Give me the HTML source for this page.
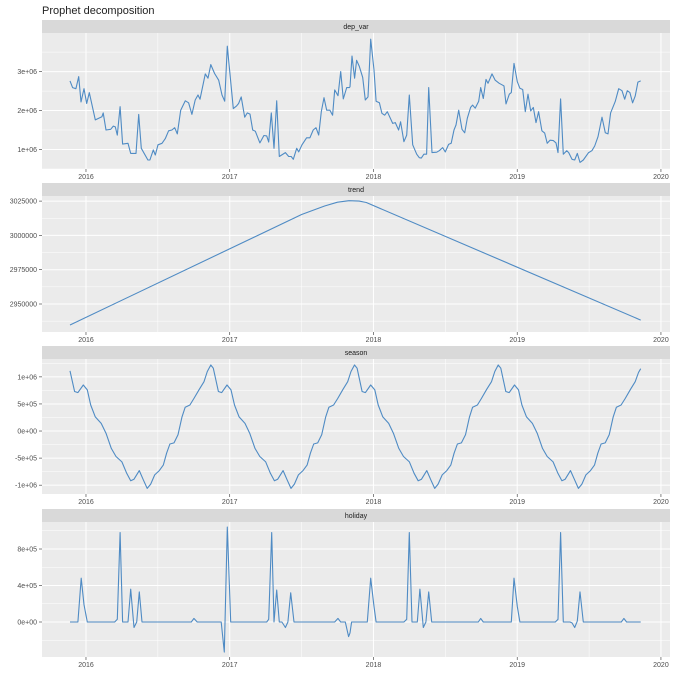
<!DOCTYPE html>
<html><head><meta charset="utf-8">
<style>
html,body{margin:0;padding:0;background:#fff;}
svg{display:block;font-family:"Liberation Sans",sans-serif;}
</style></head>
<body>
<svg id="chart" width="697" height="674" viewBox="0 0 697 674" xmlns="http://www.w3.org/2000/svg">
<text x="42" y="14" font-size="11" fill="#222">Prophet decomposition</text>
</svg>
<script>
// ---- data ----
const depDates=[2015.889,2015.907,2015.930,2015.949,2015.965,2015.986,2016.005,2016.023,2016.065,2016.111,2016.120,2016.139,2016.172,2016.190,2016.204,2016.218,2016.237,2016.255,2016.292,2016.311,2016.348,2016.367,2016.385,2016.431,2016.445,2016.468,2016.482,2016.501,2016.529,2016.552,2016.575,2016.598,2016.617,2016.635,2016.659,2016.691,2016.714,2016.737,2016.760,2016.779,2016.793,2016.830,2016.849,2016.868,2016.895,2016.923,2016.946,2016.965,2016.983,2017.025,2017.048,2017.062,2017.080,2017.104,2017.122,2017.141,2017.160,2017.178,2017.210,2017.238,2017.257,2017.271,2017.289,2017.308,2017.327,2017.345,2017.387,2017.410,2017.428,2017.442,2017.466,2017.480,2017.503,2017.535,2017.558,2017.581,2017.600,2017.619,2017.637,2017.656,2017.675,2017.697,2017.716,2017.730,2017.753,2017.772,2017.790,2017.814,2017.832,2017.837,2017.851,2017.869,2017.883,2017.901,2017.925,2017.943,2017.962,2017.981,2018.004,2018.018,2018.041,2018.059,2018.078,2018.096,2018.134,2018.152,2018.175,2018.189,2018.212,2018.231,2018.249,2018.273,2018.301,2018.319,2018.333,2018.351,2018.370,2018.384,2018.407,2018.440,2018.458,2018.481,2018.500,2018.523,2018.541,2018.560,2018.574,2018.593,2018.616,2018.635,2018.653,2018.676,2018.690,2018.708,2018.732,2018.746,2018.764,2018.783,2018.797,2018.825,2018.847,2018.875,2018.899,2018.908,2018.922,2018.945,2018.959,2018.978,2019.001,2019.019,2019.038,2019.056,2019.075,2019.094,2019.112,2019.131,2019.149,2019.172,2019.191,2019.209,2019.228,2019.251,2019.270,2019.284,2019.302,2019.321,2019.344,2019.358,2019.381,2019.400,2019.418,2019.437,2019.460,2019.497,2019.520,2019.539,2019.562,2019.590,2019.613,2019.632,2019.650,2019.682,2019.706,2019.729,2019.748,2019.766,2019.784,2019.803,2019.821,2019.840,2019.859];
const depValues=[2.76,2.59,2.56,2.87,2.22,2.56,2.18,2.46,1.76,1.84,1.94,1.5,1.52,1.6,1.58,1.37,2.1,1.14,1.16,0.9,0.9,1.9,1.03,0.73,0.73,0.99,0.86,1.12,1.16,1.28,1.48,1.5,1.56,1.4,2.01,2.25,2.2,1.9,2.27,2.4,2.29,2.94,2.83,3.18,2.95,2.78,2.4,2.24,3.65,2.05,2.12,2.18,2.35,1.83,1.94,1.91,1.5,1.47,1.17,1.36,1.35,1.19,1.94,1.03,2.25,0.82,0.92,0.82,0.82,0.75,1.03,0.94,1.12,1.3,1.3,1.5,1.56,1.37,1.97,2.33,2.01,2.01,1.88,2.53,2.38,3.0,2.3,2.59,2.59,2.61,3.4,2.83,3.29,3.14,2.85,2.27,2.35,3.83,3.04,2.24,2.2,1.93,1.88,1.97,1.67,1.69,1.5,1.71,1.2,1.37,2.4,1.12,0.88,0.79,0.78,0.88,0.88,2.59,0.92,0.93,0.97,1.05,0.94,1.13,1.16,1.5,1.63,2.01,1.52,1.43,1.8,2.08,2.14,2.06,2.24,2.59,2.31,2.8,2.7,2.94,2.78,2.7,2.65,2.63,2.17,2.42,2.46,3.21,2.74,2.57,2.54,1.97,2.42,1.99,2.08,1.69,1.97,1.48,1.42,1.16,1.24,1.23,1.17,0.92,2.3,0.88,0.97,0.92,0.75,0.73,0.9,0.67,0.73,0.92,0.97,1.09,1.33,1.83,1.43,1.4,1.94,2.23,2.56,2.51,2.29,2.51,2.46,2.2,2.37,2.73,2.76]; // millions

const trendDates=[2015.889,2017.5,2017.66,2017.75,2017.83,2017.9,2017.95,2019.859];
const trendValues=[2934700,3015200,3021400,3024200,3025300,3025000,3024000,2938300];

const seasonDates=[2015.889,2015.921,2015.944,2015.981,2016.009,2016.033,2016.065,2016.106,2016.139,2016.176,2016.209,2016.250,2016.283,2016.311,2016.334,2016.371,2016.399,2016.426,2016.450,2016.478,2016.510,2016.538,2016.561,2016.584,2016.612,2016.640,2016.668,2016.690,2016.723,2016.751,2016.788,2016.821,2016.844,2016.868,2016.886,
2016.921,2016.944,2016.981,2017.009,2017.033,2017.065,2017.106,2017.139,2017.176,2017.209,2017.250,2017.283,2017.311,2017.334,2017.371,2017.399,2017.426,2017.450,2017.478,2017.510,2017.538,2017.561,2017.584,2017.612,2017.640,2017.668,2017.690,2017.723,2017.751,2017.788,2017.821,2017.844,2017.868,2017.886,
2017.921,2017.944,2017.981,2018.009,2018.033,2018.065,2018.106,2018.139,2018.176,2018.209,2018.250,2018.283,2018.311,2018.334,2018.371,2018.399,2018.426,2018.450,2018.478,2018.510,2018.538,2018.561,2018.584,2018.612,2018.640,2018.668,2018.690,2018.723,2018.751,2018.788,2018.821,2018.844,2018.868,2018.886,
2018.921,2018.944,2018.981,2019.009,2019.033,2019.065,2019.106,2019.139,2019.176,2019.209,2019.250,2019.283,2019.311,2019.334,2019.371,2019.399,2019.426,2019.450,2019.478,2019.510,2019.538,2019.561,2019.584,2019.612,2019.640,2019.668,2019.690,2019.723,2019.751,2019.788,2019.821,2019.844,2019.859];
const seasonValues=[1.11,0.73,0.71,0.85,0.76,0.48,0.26,0.14,-0.04,-0.32,-0.47,-0.57,-0.78,-0.92,-0.89,-0.73,-0.90,-1.06,-0.98,-0.81,-0.73,-0.63,-0.41,-0.24,-0.22,-0.07,0.26,0.44,0.48,0.60,0.77,0.91,1.10,1.22,1.16,
0.73,0.71,0.85,0.76,0.48,0.26,0.14,-0.04,-0.32,-0.47,-0.57,-0.78,-0.92,-0.89,-0.73,-0.90,-1.06,-0.98,-0.81,-0.73,-0.63,-0.41,-0.24,-0.22,-0.07,0.26,0.44,0.48,0.60,0.77,0.91,1.10,1.22,1.16,
0.73,0.71,0.85,0.76,0.48,0.26,0.14,-0.04,-0.32,-0.47,-0.57,-0.78,-0.92,-0.89,-0.73,-0.90,-1.06,-0.98,-0.81,-0.73,-0.63,-0.41,-0.24,-0.22,-0.07,0.26,0.44,0.48,0.60,0.77,0.91,1.10,1.22,1.16,
0.73,0.71,0.85,0.76,0.48,0.26,0.14,-0.04,-0.32,-0.47,-0.57,-0.78,-0.92,-0.89,-0.73,-0.90,-1.06,-0.98,-0.81,-0.73,-0.63,-0.41,-0.24,-0.22,-0.07,0.26,0.44,0.48,0.60,0.77,0.91,1.08,1.15]; // millions

const holidayDates=[2015.889,2015.944,2015.967,2015.986,2016.009,2016.200,2016.218,2016.237,2016.255,2016.292,2016.311,2016.334,2016.353,2016.371,2016.390,2016.733,2016.751,2016.774,2016.941,2016.962,2016.983,2017.007,2017.257,2017.271,2017.292,2017.308,2017.327,2017.345,2017.363,2017.387,2017.405,2017.424,2017.447,2017.730,2017.753,2017.772,2017.804,2017.827,2017.837,2017.848,2017.957,2017.981,2018.004,2018.018,2018.212,2018.231,2018.249,2018.268,2018.305,2018.323,2018.347,2018.365,2018.384,2018.405,2018.729,2018.746,2018.764,2018.959,2018.978,2019.001,2019.019,2019.265,2019.284,2019.302,2019.321,2019.367,2019.381,2019.400,2019.418,2019.437,2019.460,2019.724,2019.742,2019.761,2019.859];
const holidayValues=[0,0,4.8,1.9,0,0,0.3,9.8,0,0,3.6,-0.6,0,3.3,0,0,0.4,0,0,-3.3,10.4,0,0,0.3,9.8,0,3.5,0,0,-0.6,0,3.2,0,0,0.4,0,0,-1.6,-1.2,0,0,4.8,1.7,0,0,0.3,9.8,0,0,3.6,-0.6,0,3.3,0,0,0.4,0,0,4.8,1.7,0,0,0.3,9.8,0,0,-0.1,-0.6,0.1,3.3,0,0,0.4,0,0]; // 1e5 units

const xTickYears=[2016,2017,2018,2019,2020];
const xTickLabels=["2016","2017","2018","2019","2020"];
const depTicks=[3,2,1];
const depTickLabels=["3e+06","2e+06","1e+06"];
const trendTicks=[3025000,3000000,2975000,2950000];
const trendTickLabels=["3025000","3000000","2975000","2950000"];
const seasonTicks=[1,0.5,0,-0.5,-1];
const seasonTickLabels=["1e+06","5e+05","0e+00","-5e+05","-1e+06"];
const holidayTicks=[8,4,0];
const holidayTickLabels=["8e+05","4e+05","0e+00"];

// ---- drawing ----
const NS="http://www.w3.org/2000/svg";
const svg=document.getElementById('chart');
const L=42,R=670,X0=2015.694,X1=2020.063;
function xs(t){return L+(t-X0)/(X1-X0)*(R-L);}
function mk(tag,attrs,parent){const e=document.createElementNS(NS,tag);for(const k in attrs)e.setAttribute(k,attrs[k]);(parent||svg).appendChild(e);return e;}

function panel(name,stripTop,top,bot,y0,y1,ticks,labels,dates,vals){
  const g=mk('g',{});
  
  
  const ys=v=>bot-(v-y0)/(y1-y0)*(bot-top);
  const strip=mk('rect',{x:L,y:stripTop,width:R-L,height:top-stripTop,fill:'#d9d9d9'},g);
  
  
  const st=mk('text',{x:(L+R)/2,y:stripTop+(top-stripTop)/2+2.5,'font-size':'7','text-anchor':'middle',fill:'#1a1a1a'},g);
  st.textContent=name;
  
  
  const bg=mk('rect',{x:L,y:top,width:R-L,height:bot-top,fill:'#ebebeb'},g);
  
  
  // minor y grid
  const sorted=ticks.slice().sort((a,b)=>a-b);
  const step=sorted.length>1?sorted[1]-sorted[0]:1;
  for(let v=sorted[0]-step/2;v<=y1;v+=step){ if(v<y0)continue;
    mk('line',{x1:L,x2:R,y1:ys(v),y2:ys(v),stroke:'#fff','stroke-width':0.5},g);}
  // minor x grid
  for(let k=0;k<xTickYears.length;k++){const t=xTickYears[k]-0.5; if(t>X0) mk('line',{x1:xs(t),x2:xs(t),y1:top,y2:bot,stroke:'#fff','stroke-width':0.5},g);}
  // major grid
  ticks.forEach((v,i)=>{const y=ys(v);
    mk('line',{x1:L,x2:R,y1:y,y2:y,stroke:'#fff','stroke-width':1},g);
    mk('line',{x1:L-3,x2:L,y1:y,y2:y,stroke:'#333','stroke-width':0.6},g);
    const t=mk('text',{x:L-5,y:y+2.5,'font-size':'7','text-anchor':'end',fill:'#4d4d4d'},g);
    t.textContent=labels[i];
    
    
  });
  xTickYears.forEach((yr,i)=>{const x=xs(yr);
    mk('line',{x1:x,x2:x,y1:top,y2:bot,stroke:'#fff','stroke-width':1},g);
    mk('line',{x1:x,x2:x,y1:bot,y2:bot+3,stroke:'#333','stroke-width':0.6},g);
    const t=mk('text',{x:x,y:bot+10,'font-size':'7','text-anchor':'middle',fill:'#4d4d4d'},g);
    t.textContent=xTickLabels[i];
    
    
  });
  const pts=dates.map((d,i)=>xs(d).toFixed(1)+','+ys(vals[i]).toFixed(1)).join(' ');
  const line=mk('polyline',{points:pts,fill:'none',stroke:'#4f8bc4','stroke-width':1.1,'stroke-linejoin':'round'},g);
  
  
}
panel('dep_var',20,33,169,0.5,3.99,depTicks,depTickLabels,depDates,depValues);
panel('trend',183,196,332,2929592,3028717,trendTicks,trendTickLabels,trendDates,trendValues);
panel('season',346,359,494,-1.163,1.33,seasonTicks,seasonTickLabels,seasonDates,seasonValues);
panel('holiday',509,522,657,-3.836,10.96,holidayTicks,holidayTickLabels,holidayDates,holidayValues);
</script>
</body></html>
